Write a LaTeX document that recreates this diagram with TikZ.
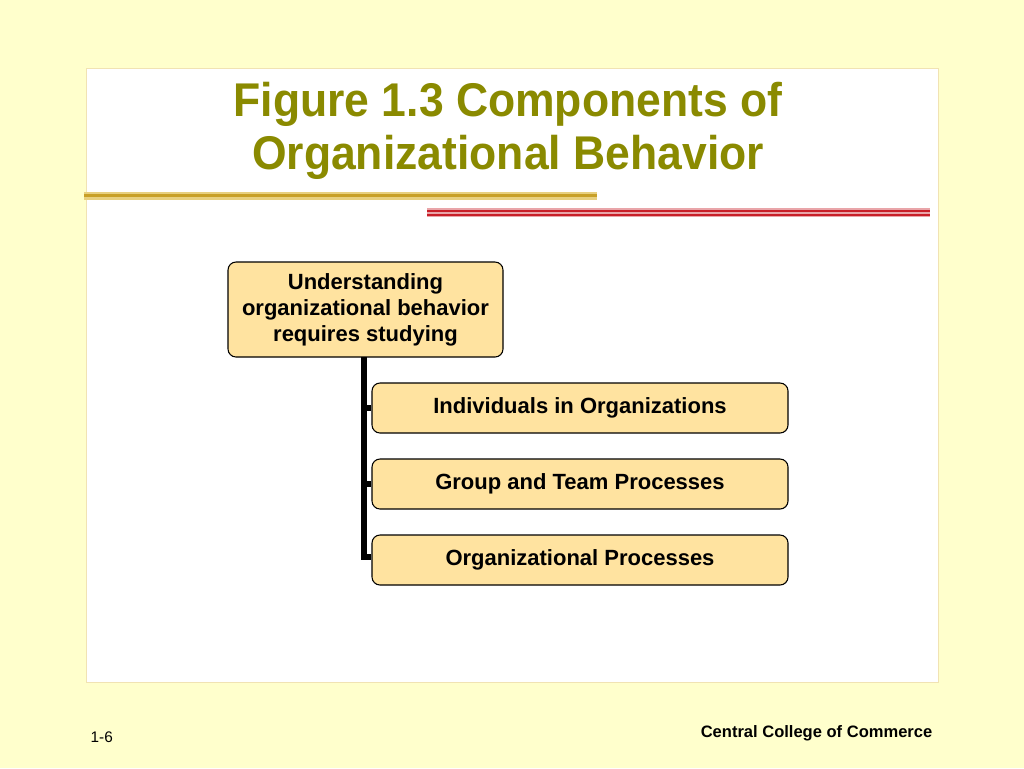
\documentclass[tikz,border=0pt]{standalone}
\usepackage{fontspec}
\setmainfont{Liberation Sans}
\newfontfamily\titlefont[FakeStretch=0.94]{Liberation Sans}
\definecolor{bg}{HTML}{FFFFCC}
\definecolor{olive}{HTML}{8A8A00}
\definecolor{gold}{HTML}{C8A028}
\definecolor{goldl}{HTML}{E8D080}
\definecolor{redl}{HTML}{C81E28}
\definecolor{boxf}{HTML}{FFE3A0}
\begin{document}
\begin{tikzpicture}[x=0.75pt,y=-0.75pt,
  bx/.style={draw=black,fill=boxf,rounded corners=6pt,line width=0.8pt,font=\fontsize{16.5}{19.5}\selectfont\bfseries,align=center,inner sep=0pt},
  link/.style={line width=4pt}]
\useasboundingbox (0,0) rectangle (1024,768);
\fill[bg] (0,0) rectangle (1024,768);
\fill[white,draw=goldl!60,line width=0.5pt] (86,68) rectangle (938,682);
\node[text=olive,font=\titlefont\fontsize{35.5}{40}\selectfont\bfseries,align=center] (title) at (508,131) {Figure 1.3 Components of\\Organizational Behavior};
\fill[goldl] (84,192) rectangle (597,200);
\fill[gold] (84,193.5) rectangle (597,196.5);
\fill[redl!40] (427,208) rectangle (930,217);
\fill[redl] (427,209.5) rectangle (930,212);
\fill[redl] (427,213.5) rectangle (930,215.5);
\node[bx,minimum width=275*0.75pt,minimum height=95*0.75pt] (top) at (365.5,309.5) {Understanding\\organizational behavior\\requires studying};
\node[bx,minimum width=416*0.75pt,minimum height=50*0.75pt] (b1) at (580,408) {Individuals in Organizations};
\node[bx,minimum width=416*0.75pt,minimum height=50*0.75pt] (b2) at (580,484) {Group and Team Processes};
\node[bx,minimum width=416*0.75pt,minimum height=50*0.75pt] (b3) at (580,560) {Organizational Processes};
\coordinate (t0) at (364,357);
\coordinate (t3) at (364,557);
\draw[link] (t0) -- (t3) -- (b3.west|-t3);
\draw[link] (364,408) -- (b1.west);
\draw[link] (364,484) -- (b2.west);
\node[font=\fontsize{11.5}{13}\selectfont,anchor=west] (pg) at (86,737) {1-6};
\node[font=\fontsize{12.4}{14}\selectfont\bfseries,anchor=east] (col) at (937,733) {Central College of Commerce};
\end{tikzpicture}
\end{document}
